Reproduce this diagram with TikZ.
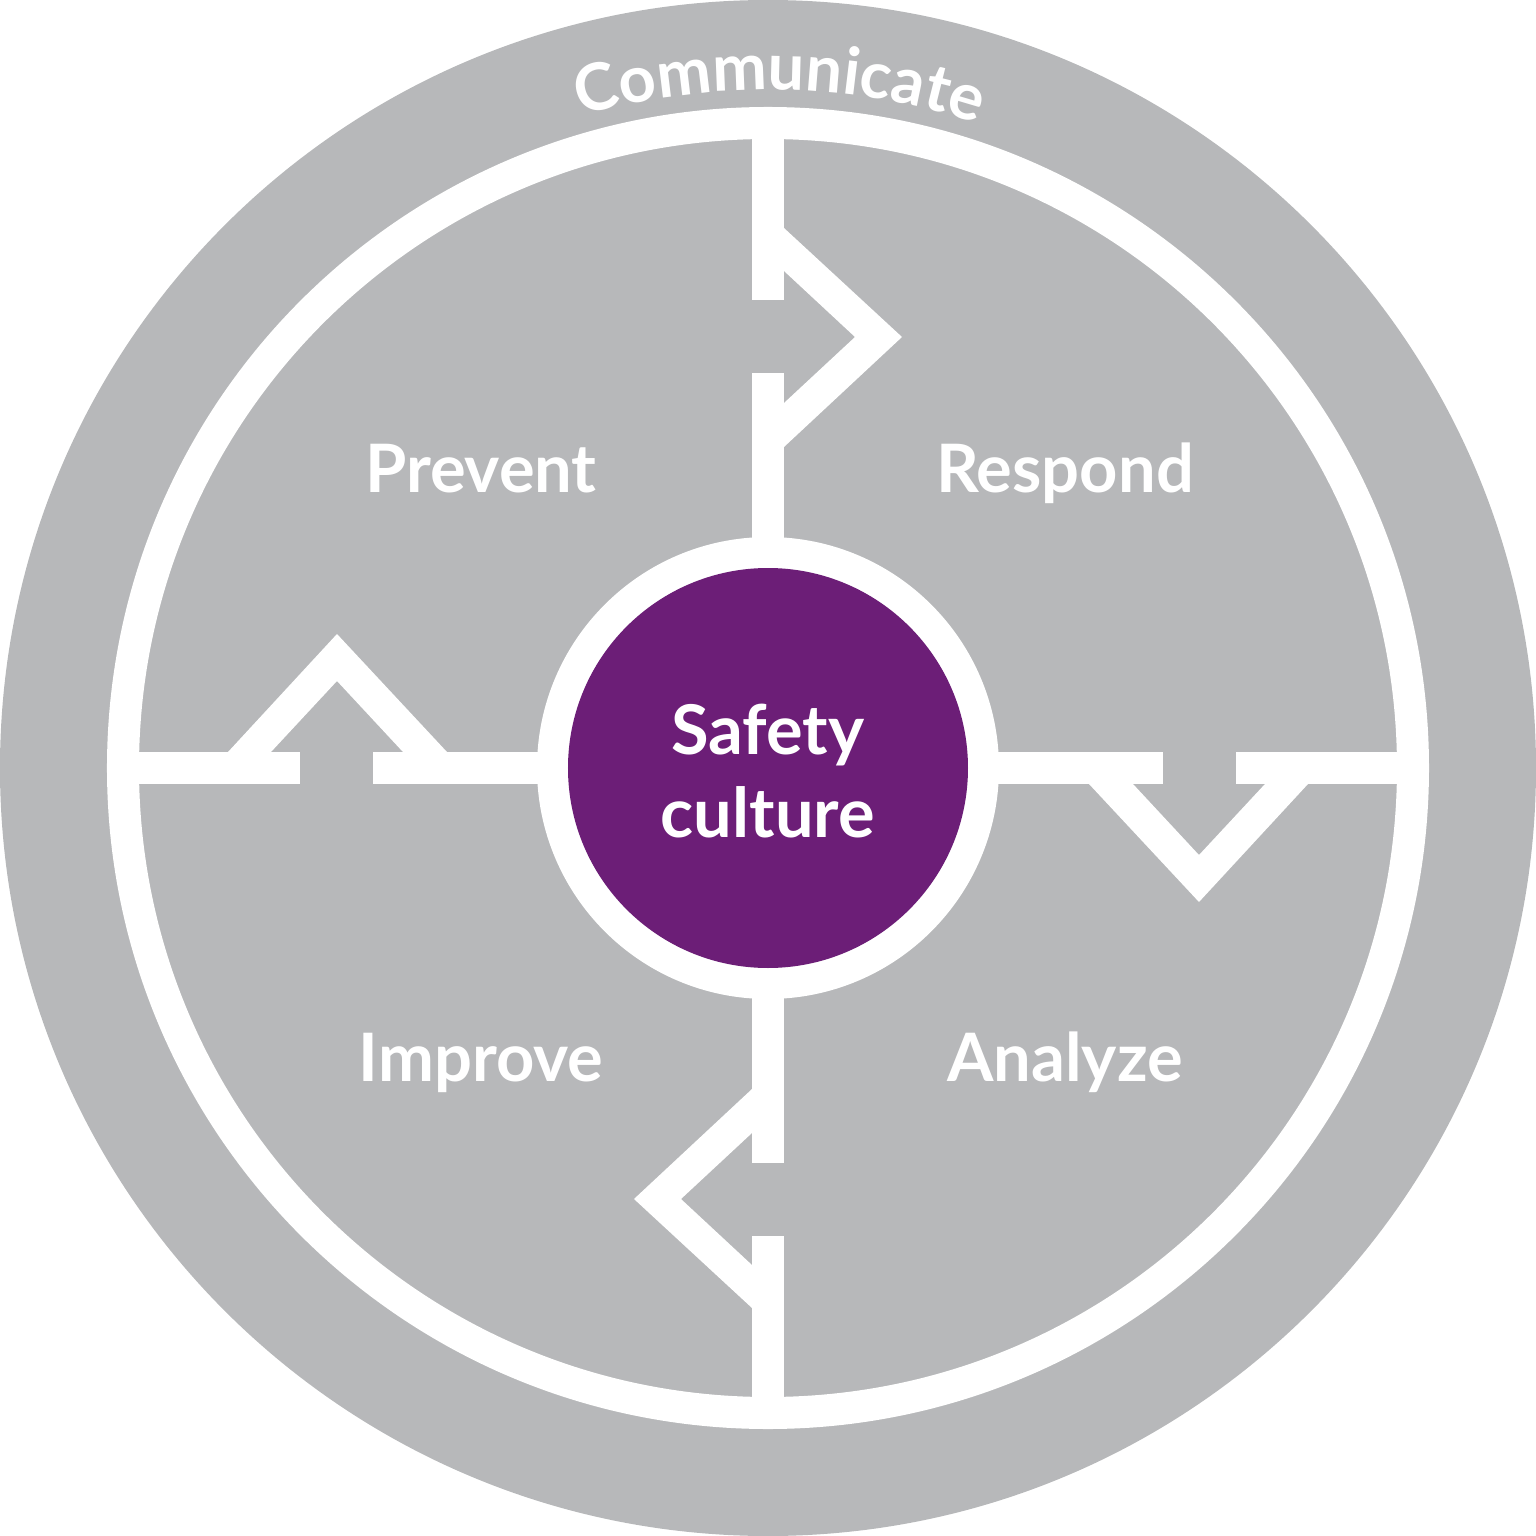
\documentclass[tikz,border=0pt]{standalone}
\usepackage{fontspec}
\setmainfont{Lato}
\usetikzlibrary{decorations.text}
\definecolor{ringgrey}{HTML}{B7B8BA}
\definecolor{culturepurple}{HTML}{6C1E77}
\tikzset{%
  stage/.style = {text=white,anchor=base,inner sep=0pt,
        font=\bfseries\fontsize{19}{23}\selectfont},
  core/.style = {text=white,align=center,inner sep=0pt,
        font=\bfseries\fontsize{19.5}{23.6}\selectfont},
  spoke/.style = {fill=white,draw=none}
}

\begin{document}
\begin{tikzpicture}[x=0.01cm,y=0.01cm]
        \useasboundingbox (-768,-768) rectangle (768,768);
        \fill[ringgrey] (0,0) circle[radius=768];
        \draw[white,line width=0.32cm] (0,0) circle[radius=645];

        % four spokes, each with its chevron
        \foreach \a in {0,90,180,270} {
          \begin{scope}[rotate=\a]
            \fill[spoke] (-16,640) rectangle (16,468);
            \fill[spoke] (-16,395) rectangle (16,200);
            \fill[spoke] (16,540) -- (134,431) -- (16,321) -- (16,365)
                -- (87,431) -- (16,497) -- cycle;
          \end{scope}
        }

        \fill[white] (0,0) circle[radius=231];
        \fill[culturepurple] (0,0) circle[radius=200];

        \node[core] (culture) at (0,-3) {Safety\\culture};
        \node[stage] (prevent) at (-287,275) {Prevent};
        \node[stage] (respond) at (297,275) {Respond};
        \node[stage] (improve) at (-287,-313) {Improve};
        \node[stage] (analyze) at (297,-313) {Analyze};

        \path[decorate,decoration={text along path,text align=center,
            text color=white,
            text={|\bfseries\fontsize{18.5}{22}\selectfont|Communicate}}]
            (134:678) arc[start angle=134,end angle=44,radius=678];
    \end{tikzpicture}
\end{document}
